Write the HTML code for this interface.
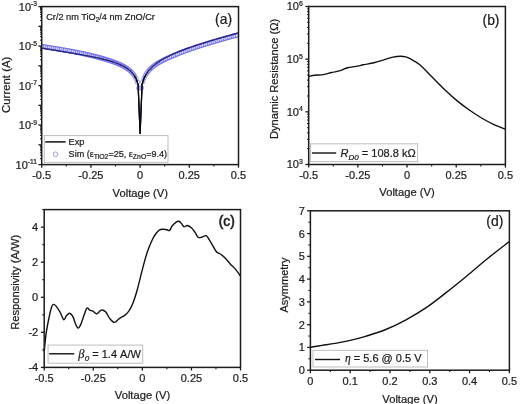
<!DOCTYPE html>
<html><head><meta charset="utf-8"><title>Figure</title>
<style>html,body{margin:0;padding:0;background:#fff}svg{display:block}</style></head>
<body>
<svg width="520" height="404" viewBox="0 0 520 404" font-family="'Liberation Sans', sans-serif" fill="#1c1c1c" stroke="#1c1c1c" stroke-width="0.22">
<rect width="520" height="404" fill="#fff" stroke="none"/>
<clipPath id="ca"><rect x="41.7" y="6.6" width="196.8" height="158"/></clipPath>
<g clip-path="url(#ca)">
<path d="M41.7 48.16L42.1 48.22L44.1 48.53L46.1 48.85L48.1 49.17L50.1 49.49L52.1 49.81L54.1 50.13L56.1 50.46L58.1 50.79L60.1 51.12L62.1 51.45L64.1 51.79L66.1 52.13L68.1 52.47L70.1 52.81L72.1 53.15L74.1 53.49L76.1 53.82L78.1 54.17L80.1 54.51L82.1 54.86L84.1 55.22L86.1 55.58L88.1 55.94L90.1 56.32L92.1 56.71L94.1 57.11L96.1 57.52L98.1 57.95L100.1 58.4L102.1 58.86L104.1 59.35L106.1 59.87L108.1 60.41L110.1 60.99L112.1 61.61L114.1 62.27L116.1 62.99L118.1 63.76L120.1 64.61L122.1 65.55L124.1 66.6L126.1 67.78L128.1 69.14L130.1 70.74L132.1 72.68L134.1 75.18L136.1 78.68L138.1 84.65L140.1 133.5L142.1 84.33L144.1 78.04L146.1 74.2L148.1 71.36L150.1 69.05L152.1 67.09L154.1 65.35L156.1 63.78L158.1 62.34L160.1 61.01L162.1 59.76L164.1 58.59L166.1 57.48L168.1 56.43L170.1 55.44L172.1 54.49L174.1 53.6L176.1 52.75L178.1 51.93L180.1 51.14L182.1 50.37L184.1 49.62L186.1 48.88L188.1 48.16L190.1 47.45L192.1 46.76L194.1 46.08L196.1 45.41L198.1 44.76L200.1 44.11L202.1 43.47L204.1 42.84L206.1 42.22L208.1 41.6L210.1 40.99L212.1 40.39L214.1 39.8L216.1 39.21L218.1 38.62L220.1 38.05L222.1 37.47L224.1 36.9L226.1 36.34L228.1 35.78L230.1 35.22L232.1 34.67L234.1 34.12L236.1 33.58L238.1 33.03L238.5 32.93" fill="none" stroke="#14143c" stroke-width="1.2" stroke-linejoin="round"/>
<g fill="none" stroke="#5450e2" stroke-width="0.65" stroke-opacity="0.85">
<circle cx="41.7" cy="46.41" r="2.2"/>
<circle cx="43.03" cy="46.61" r="2.2"/>
<circle cx="44.36" cy="46.83" r="2.2"/>
<circle cx="45.69" cy="47.04" r="2.2"/>
<circle cx="47.02" cy="47.25" r="2.2"/>
<circle cx="48.35" cy="47.46" r="2.2"/>
<circle cx="49.68" cy="47.67" r="2.2"/>
<circle cx="51.01" cy="47.89" r="2.2"/>
<circle cx="52.34" cy="48.1" r="2.2"/>
<circle cx="53.67" cy="48.31" r="2.2"/>
<circle cx="55" cy="48.53" r="2.2"/>
<circle cx="56.33" cy="48.75" r="2.2"/>
<circle cx="57.66" cy="48.97" r="2.2"/>
<circle cx="58.99" cy="49.19" r="2.2"/>
<circle cx="60.32" cy="49.41" r="2.2"/>
<circle cx="61.65" cy="49.63" r="2.2"/>
<circle cx="62.98" cy="49.85" r="2.2"/>
<circle cx="64.31" cy="50.08" r="2.2"/>
<circle cx="65.64" cy="50.3" r="2.2"/>
<circle cx="66.97" cy="50.53" r="2.2"/>
<circle cx="68.3" cy="50.77" r="2.2"/>
<circle cx="69.63" cy="51.01" r="2.2"/>
<circle cx="70.96" cy="51.25" r="2.2"/>
<circle cx="72.29" cy="51.5" r="2.2"/>
<circle cx="73.62" cy="51.75" r="2.2"/>
<circle cx="74.95" cy="52" r="2.2"/>
<circle cx="76.28" cy="52.26" r="2.2"/>
<circle cx="77.61" cy="52.53" r="2.2"/>
<circle cx="78.94" cy="52.8" r="2.2"/>
<circle cx="80.27" cy="53.07" r="2.2"/>
<circle cx="81.6" cy="53.35" r="2.2"/>
<circle cx="82.93" cy="53.63" r="2.2"/>
<circle cx="84.26" cy="53.92" r="2.2"/>
<circle cx="85.59" cy="54.21" r="2.2"/>
<circle cx="86.92" cy="54.51" r="2.2"/>
<circle cx="88.25" cy="54.81" r="2.2"/>
<circle cx="89.58" cy="55.12" r="2.2"/>
<circle cx="90.91" cy="55.43" r="2.2"/>
<circle cx="92.24" cy="55.75" r="2.2"/>
<circle cx="93.57" cy="56.07" r="2.2"/>
<circle cx="94.9" cy="56.4" r="2.2"/>
<circle cx="96.23" cy="56.74" r="2.2"/>
<circle cx="97.56" cy="57.08" r="2.2"/>
<circle cx="98.89" cy="57.43" r="2.2"/>
<circle cx="100.22" cy="57.79" r="2.2"/>
<circle cx="101.55" cy="58.15" r="2.2"/>
<circle cx="102.88" cy="58.53" r="2.2"/>
<circle cx="104.21" cy="58.91" r="2.2"/>
<circle cx="105.54" cy="59.3" r="2.2"/>
<circle cx="106.87" cy="59.71" r="2.2"/>
<circle cx="108.2" cy="60.12" r="2.2"/>
<circle cx="109.53" cy="60.55" r="2.2"/>
<circle cx="110.86" cy="60.99" r="2.2"/>
<circle cx="112.19" cy="61.45" r="2.2"/>
<circle cx="113.52" cy="61.92" r="2.2"/>
<circle cx="114.85" cy="62.41" r="2.2"/>
<circle cx="116.18" cy="62.92" r="2.2"/>
<circle cx="117.51" cy="63.46" r="2.2"/>
<circle cx="118.84" cy="64.02" r="2.2"/>
<circle cx="120.17" cy="64.62" r="2.2"/>
<circle cx="121.5" cy="65.25" r="2.2"/>
<circle cx="122.83" cy="65.91" r="2.2"/>
<circle cx="124.16" cy="66.63" r="2.2"/>
<circle cx="125.49" cy="67.4" r="2.2"/>
<circle cx="126.82" cy="68.25" r="2.2"/>
<circle cx="128.15" cy="69.18" r="2.2"/>
<circle cx="129.48" cy="70.21" r="2.2"/>
<circle cx="130.81" cy="71.38" r="2.2"/>
<circle cx="132.14" cy="72.72" r="2.2"/>
<circle cx="133.47" cy="74.31" r="2.2"/>
<circle cx="134.8" cy="76.25" r="2.2"/>
<circle cx="136.13" cy="78.75" r="2.2"/>
<circle cx="137.46" cy="82.26" r="2.2"/>
<circle cx="138.79" cy="88.29" r="2.2"/>
<circle cx="141.45" cy="87.81" r="2.2"/>
<circle cx="142.78" cy="81.7" r="2.2"/>
<circle cx="144.11" cy="78.01" r="2.2"/>
<circle cx="145.44" cy="75.33" r="2.2"/>
<circle cx="146.77" cy="73.21" r="2.2"/>
<circle cx="148.1" cy="71.44" r="2.2"/>
<circle cx="149.43" cy="69.92" r="2.2"/>
<circle cx="150.76" cy="68.58" r="2.2"/>
<circle cx="152.09" cy="67.38" r="2.2"/>
<circle cx="153.42" cy="66.29" r="2.2"/>
<circle cx="154.75" cy="65.29" r="2.2"/>
<circle cx="156.08" cy="64.37" r="2.2"/>
<circle cx="157.41" cy="63.51" r="2.2"/>
<circle cx="158.74" cy="62.7" r="2.2"/>
<circle cx="160.07" cy="61.93" r="2.2"/>
<circle cx="161.4" cy="61.2" r="2.2"/>
<circle cx="162.73" cy="60.5" r="2.2"/>
<circle cx="164.06" cy="59.84" r="2.2"/>
<circle cx="165.39" cy="59.19" r="2.2"/>
<circle cx="166.72" cy="58.57" r="2.2"/>
<circle cx="168.05" cy="57.96" r="2.2"/>
<circle cx="169.38" cy="57.37" r="2.2"/>
<circle cx="170.71" cy="56.78" r="2.2"/>
<circle cx="172.04" cy="56.21" r="2.2"/>
<circle cx="173.37" cy="55.65" r="2.2"/>
<circle cx="174.7" cy="55.09" r="2.2"/>
<circle cx="176.03" cy="54.53" r="2.2"/>
<circle cx="177.36" cy="53.98" r="2.2"/>
<circle cx="178.69" cy="53.45" r="2.2"/>
<circle cx="180.02" cy="52.92" r="2.2"/>
<circle cx="181.35" cy="52.41" r="2.2"/>
<circle cx="182.68" cy="51.9" r="2.2"/>
<circle cx="184.01" cy="51.4" r="2.2"/>
<circle cx="185.34" cy="50.91" r="2.2"/>
<circle cx="186.67" cy="50.42" r="2.2"/>
<circle cx="188" cy="49.95" r="2.2"/>
<circle cx="189.33" cy="49.47" r="2.2"/>
<circle cx="190.66" cy="49.01" r="2.2"/>
<circle cx="191.99" cy="48.55" r="2.2"/>
<circle cx="193.32" cy="48.1" r="2.2"/>
<circle cx="194.65" cy="47.65" r="2.2"/>
<circle cx="195.98" cy="47.2" r="2.2"/>
<circle cx="197.31" cy="46.76" r="2.2"/>
<circle cx="198.64" cy="46.33" r="2.2"/>
<circle cx="199.97" cy="45.9" r="2.2"/>
<circle cx="201.3" cy="45.47" r="2.2"/>
<circle cx="202.63" cy="45.05" r="2.2"/>
<circle cx="203.96" cy="44.63" r="2.2"/>
<circle cx="205.29" cy="44.22" r="2.2"/>
<circle cx="206.62" cy="43.81" r="2.2"/>
<circle cx="207.95" cy="43.4" r="2.2"/>
<circle cx="209.28" cy="42.99" r="2.2"/>
<circle cx="210.61" cy="42.59" r="2.2"/>
<circle cx="211.94" cy="42.19" r="2.2"/>
<circle cx="213.27" cy="41.79" r="2.2"/>
<circle cx="214.6" cy="41.4" r="2.2"/>
<circle cx="215.93" cy="41.01" r="2.2"/>
<circle cx="217.26" cy="40.62" r="2.2"/>
<circle cx="218.59" cy="40.23" r="2.2"/>
<circle cx="219.92" cy="39.85" r="2.2"/>
<circle cx="221.25" cy="39.47" r="2.2"/>
<circle cx="222.58" cy="39.09" r="2.2"/>
<circle cx="223.91" cy="38.71" r="2.2"/>
<circle cx="225.24" cy="38.33" r="2.2"/>
<circle cx="226.57" cy="37.96" r="2.2"/>
<circle cx="227.9" cy="37.58" r="2.2"/>
<circle cx="229.23" cy="37.21" r="2.2"/>
<circle cx="230.56" cy="36.85" r="2.2"/>
<circle cx="231.89" cy="36.48" r="2.2"/>
<circle cx="233.22" cy="36.11" r="2.2"/>
<circle cx="234.55" cy="35.75" r="2.2"/>
<circle cx="235.88" cy="35.39" r="2.2"/>
<circle cx="237.21" cy="35.03" r="2.2"/>
</g>
<g stroke="#fff" stroke-width="0.85">
<line x1="42.5" y1="45.08" x2="42.5" y2="47.08" stroke-opacity="0.7"/>
<line x1="44.5" y1="45.4" x2="44.5" y2="47.4" stroke-opacity="0.7"/>
<line x1="46.5" y1="45.71" x2="46.5" y2="47.71" stroke-opacity="0.7"/>
<line x1="48.5" y1="46.03" x2="48.5" y2="48.03" stroke-opacity="0.7"/>
<line x1="50.5" y1="46.35" x2="50.5" y2="48.35" stroke-opacity="0.7"/>
<line x1="52.5" y1="46.68" x2="52.5" y2="48.68" stroke-opacity="0.7"/>
<line x1="54.5" y1="47" x2="54.5" y2="49" stroke-opacity="0.7"/>
<line x1="56.5" y1="47.33" x2="56.5" y2="49.33" stroke-opacity="0.7"/>
<line x1="58.5" y1="47.65" x2="58.5" y2="49.65" stroke-opacity="0.7"/>
<line x1="60.5" y1="47.99" x2="60.5" y2="49.99" stroke-opacity="0.7"/>
<line x1="62.5" y1="48.32" x2="62.5" y2="50.32" stroke-opacity="0.7"/>
<line x1="64.5" y1="48.66" x2="64.5" y2="50.66" stroke-opacity="0.7"/>
<line x1="66.5" y1="49" x2="66.5" y2="51" stroke-opacity="0.7"/>
<line x1="68.5" y1="49.36" x2="68.5" y2="51.36" stroke-opacity="0.69"/>
<line x1="70.5" y1="49.72" x2="70.5" y2="51.72" stroke-opacity="0.68"/>
<line x1="72.5" y1="50.1" x2="72.5" y2="52.1" stroke-opacity="0.67"/>
<line x1="74.5" y1="50.5" x2="74.5" y2="52.5" stroke-opacity="0.65"/>
<line x1="76.5" y1="50.9" x2="76.5" y2="52.9" stroke-opacity="0.63"/>
<line x1="78.5" y1="51.32" x2="78.5" y2="53.32" stroke-opacity="0.61"/>
<line x1="80.5" y1="51.74" x2="80.5" y2="53.74" stroke-opacity="0.58"/>
<line x1="82.5" y1="52.18" x2="82.5" y2="54.18" stroke-opacity="0.56"/>
<line x1="84.5" y1="52.63" x2="84.5" y2="54.63" stroke-opacity="0.53"/>
<line x1="86.5" y1="53.1" x2="86.5" y2="55.1" stroke-opacity="0.49"/>
<line x1="88.5" y1="53.57" x2="88.5" y2="55.57" stroke-opacity="0.46"/>
<line x1="90.5" y1="54.06" x2="90.5" y2="56.06" stroke-opacity="0.43"/>
<line x1="92.5" y1="54.56" x2="92.5" y2="56.56" stroke-opacity="0.39"/>
<line x1="94.5" y1="55.07" x2="94.5" y2="57.07" stroke-opacity="0.36"/>
<line x1="96.5" y1="55.6" x2="96.5" y2="57.6" stroke-opacity="0.32"/>
<line x1="98.5" y1="56.14" x2="98.5" y2="58.14" stroke-opacity="0.29"/>
<line x1="100.5" y1="56.7" x2="100.5" y2="58.7" stroke-opacity="0.25"/>
<line x1="102.5" y1="57.28" x2="102.5" y2="59.28" stroke-opacity="0.22"/>
<line x1="104.5" y1="57.88" x2="104.5" y2="59.88" stroke-opacity="0.18"/>
<line x1="106.5" y1="58.49" x2="106.5" y2="60.49" stroke-opacity="0.15"/>
<line x1="108.5" y1="59.14" x2="108.5" y2="61.14" stroke-opacity="0.12"/>
<line x1="152.5" y1="66.11" x2="152.5" y2="68.11" stroke-opacity="0.12"/>
<line x1="154.5" y1="64.59" x2="154.5" y2="66.59" stroke-opacity="0.18"/>
<line x1="156.5" y1="63.25" x2="156.5" y2="65.25" stroke-opacity="0.24"/>
<line x1="158.5" y1="62.04" x2="158.5" y2="64.04" stroke-opacity="0.31"/>
<line x1="160.5" y1="60.93" x2="160.5" y2="62.93" stroke-opacity="0.37"/>
<line x1="162.5" y1="59.91" x2="162.5" y2="61.91" stroke-opacity="0.44"/>
<line x1="164.5" y1="58.94" x2="164.5" y2="60.94" stroke-opacity="0.5"/>
<line x1="166.5" y1="58.03" x2="166.5" y2="60.03" stroke-opacity="0.56"/>
<line x1="168.5" y1="57.15" x2="168.5" y2="59.15" stroke-opacity="0.61"/>
<line x1="170.5" y1="56.29" x2="170.5" y2="58.29" stroke-opacity="0.65"/>
<line x1="172.5" y1="55.45" x2="172.5" y2="57.45" stroke-opacity="0.68"/>
<line x1="174.5" y1="54.62" x2="174.5" y2="56.62" stroke-opacity="0.7"/>
<line x1="176.5" y1="53.78" x2="176.5" y2="55.78" stroke-opacity="0.7"/>
<line x1="178.5" y1="52.97" x2="178.5" y2="54.97" stroke-opacity="0.7"/>
<line x1="180.5" y1="52.18" x2="180.5" y2="54.18" stroke-opacity="0.7"/>
<line x1="182.5" y1="51.42" x2="182.5" y2="53.42" stroke-opacity="0.7"/>
<line x1="184.5" y1="50.67" x2="184.5" y2="52.67" stroke-opacity="0.7"/>
<line x1="186.5" y1="49.93" x2="186.5" y2="51.93" stroke-opacity="0.7"/>
<line x1="188.5" y1="49.22" x2="188.5" y2="51.22" stroke-opacity="0.7"/>
<line x1="190.5" y1="48.51" x2="190.5" y2="50.51" stroke-opacity="0.7"/>
<line x1="192.5" y1="47.83" x2="192.5" y2="49.83" stroke-opacity="0.7"/>
<line x1="194.5" y1="47.15" x2="194.5" y2="49.15" stroke-opacity="0.7"/>
<line x1="196.5" y1="46.48" x2="196.5" y2="48.48" stroke-opacity="0.7"/>
<line x1="198.5" y1="45.83" x2="198.5" y2="47.83" stroke-opacity="0.7"/>
<line x1="200.5" y1="45.18" x2="200.5" y2="47.18" stroke-opacity="0.7"/>
<line x1="202.5" y1="44.54" x2="202.5" y2="46.54" stroke-opacity="0.7"/>
<line x1="204.5" y1="43.91" x2="204.5" y2="45.91" stroke-opacity="0.7"/>
<line x1="206.5" y1="43.29" x2="206.5" y2="45.29" stroke-opacity="0.7"/>
<line x1="208.5" y1="42.68" x2="208.5" y2="44.68" stroke-opacity="0.7"/>
<line x1="210.5" y1="42.07" x2="210.5" y2="44.07" stroke-opacity="0.7"/>
<line x1="212.5" y1="41.47" x2="212.5" y2="43.47" stroke-opacity="0.7"/>
<line x1="214.5" y1="40.88" x2="214.5" y2="42.88" stroke-opacity="0.7"/>
<line x1="216.5" y1="40.29" x2="216.5" y2="42.29" stroke-opacity="0.7"/>
<line x1="218.5" y1="39.71" x2="218.5" y2="41.71" stroke-opacity="0.7"/>
<line x1="220.5" y1="39.13" x2="220.5" y2="41.13" stroke-opacity="0.7"/>
<line x1="222.5" y1="38.56" x2="222.5" y2="40.56" stroke-opacity="0.7"/>
<line x1="224.5" y1="37.99" x2="224.5" y2="39.99" stroke-opacity="0.7"/>
<line x1="226.5" y1="37.43" x2="226.5" y2="39.43" stroke-opacity="0.7"/>
<line x1="228.5" y1="36.87" x2="228.5" y2="38.87" stroke-opacity="0.7"/>
<line x1="230.5" y1="36.31" x2="230.5" y2="38.31" stroke-opacity="0.7"/>
<line x1="232.5" y1="35.76" x2="232.5" y2="37.76" stroke-opacity="0.7"/>
<line x1="234.5" y1="35.21" x2="234.5" y2="37.21" stroke-opacity="0.7"/>
<line x1="236.5" y1="34.67" x2="236.5" y2="36.67" stroke-opacity="0.7"/>
</g>
<path d="M41.7 48.16L42.1 48.22L44.1 48.53L46.1 48.85L48.1 49.17L50.1 49.49L52.1 49.81L54.1 50.13L56.1 50.46L58.1 50.79L60.1 51.12L62.1 51.45L64.1 51.79L66.1 52.13L68.1 52.47L70.1 52.81L72.1 53.15L74.1 53.49L76.1 53.82L78.1 54.17L80.1 54.51L82.1 54.86L84.1 55.22L86.1 55.58L88.1 55.94L90.1 56.32L92.1 56.71L94.1 57.11L96.1 57.52L98.1 57.95L100.1 58.4L102.1 58.86L104.1 59.35L106.1 59.87L108.1 60.41L110.1 60.99L112.1 61.61L114.1 62.27L116.1 62.99L118.1 63.76L120.1 64.61L122.1 65.55L124.1 66.6L126.1 67.78L128.1 69.14L130.1 70.74L132.1 72.68L134.1 75.18L136.1 78.68L138.1 84.65L140.1 133.5L142.1 84.33L144.1 78.04L146.1 74.2L148.1 71.36L150.1 69.05L152.1 67.09L154.1 65.35L156.1 63.78L158.1 62.34L160.1 61.01L162.1 59.76L164.1 58.59L166.1 57.48L168.1 56.43L170.1 55.44L172.1 54.49L174.1 53.6L176.1 52.75L178.1 51.93L180.1 51.14L182.1 50.37L184.1 49.62L186.1 48.88L188.1 48.16L190.1 47.45L192.1 46.76L194.1 46.08L196.1 45.41L198.1 44.76L200.1 44.11L202.1 43.47L204.1 42.84L206.1 42.22L208.1 41.6L210.1 40.99L212.1 40.39L214.1 39.8L216.1 39.21L218.1 38.62L220.1 38.05L222.1 37.47L224.1 36.9L226.1 36.34L228.1 35.78L230.1 35.22L232.1 34.67L234.1 34.12L236.1 33.58L238.1 33.03L238.5 32.93" fill="none" stroke="#0c0c40" stroke-opacity="0.5" stroke-width="1.15" stroke-linejoin="round"/>
<path d="M134.1 75.18L136.1 78.68L138.1 84.65L140.1 133.5L142.1 84.33L144.1 78.04L146.1 74.2" fill="none" stroke="#0a0a0a" stroke-width="1.35" stroke-linejoin="round"/>
</g>
<rect x="41.7" y="6.6" width="196.8" height="158" fill="none" stroke="#1c1c1c" stroke-width="1.5"/>
<line x1="66.3" y1="164.6" x2="66.3" y2="166.5" stroke="#1c1c1c" stroke-width="1.1" />
<line x1="115.5" y1="164.6" x2="115.5" y2="166.5" stroke="#1c1c1c" stroke-width="1.1" />
<line x1="164.7" y1="164.6" x2="164.7" y2="166.5" stroke="#1c1c1c" stroke-width="1.1" />
<line x1="213.9" y1="164.6" x2="213.9" y2="166.5" stroke="#1c1c1c" stroke-width="1.1" />
<line x1="41.7" y1="164.6" x2="41.7" y2="167.7" stroke="#1c1c1c" stroke-width="1.3" />
<text x="41.7" y="179" font-size="11" text-anchor="middle" >-0.5</text>
<line x1="90.9" y1="164.6" x2="90.9" y2="167.7" stroke="#1c1c1c" stroke-width="1.3" />
<text x="90.9" y="179" font-size="11" text-anchor="middle" >-0.25</text>
<line x1="140.1" y1="164.6" x2="140.1" y2="167.7" stroke="#1c1c1c" stroke-width="1.3" />
<text x="140.1" y="179" font-size="11" text-anchor="middle" >0</text>
<line x1="189.3" y1="164.6" x2="189.3" y2="167.7" stroke="#1c1c1c" stroke-width="1.3" />
<text x="189.3" y="179" font-size="11" text-anchor="middle" >0.25</text>
<line x1="238.5" y1="164.6" x2="238.5" y2="167.7" stroke="#1c1c1c" stroke-width="1.3" />
<text x="238.5" y="179" font-size="11" text-anchor="middle" >0.5</text>
<line x1="41.7" y1="164.6" x2="38.4" y2="164.6" stroke="#1c1c1c" stroke-width="1.3" />
<line x1="41.7" y1="158.65" x2="40" y2="158.65" stroke="#1c1c1c" stroke-width="1.0" />
<line x1="41.7" y1="155.18" x2="40" y2="155.18" stroke="#1c1c1c" stroke-width="1.0" />
<line x1="41.7" y1="152.71" x2="40" y2="152.71" stroke="#1c1c1c" stroke-width="1.0" />
<line x1="41.7" y1="150.8" x2="40" y2="150.8" stroke="#1c1c1c" stroke-width="1.0" />
<line x1="41.7" y1="149.23" x2="40" y2="149.23" stroke="#1c1c1c" stroke-width="1.0" />
<line x1="41.7" y1="147.91" x2="40" y2="147.91" stroke="#1c1c1c" stroke-width="1.0" />
<line x1="41.7" y1="146.76" x2="40" y2="146.76" stroke="#1c1c1c" stroke-width="1.0" />
<line x1="41.7" y1="145.75" x2="40" y2="145.75" stroke="#1c1c1c" stroke-width="1.0" />
<text x="37" y="168.55" font-size="11" text-anchor="end">10<tspan font-size="6.7" dy="-4.4">-11</tspan></text>
<line x1="41.7" y1="144.85" x2="38.4" y2="144.85" stroke="#1c1c1c" stroke-width="1.3" />
<line x1="41.7" y1="138.9" x2="40" y2="138.9" stroke="#1c1c1c" stroke-width="1.0" />
<line x1="41.7" y1="135.43" x2="40" y2="135.43" stroke="#1c1c1c" stroke-width="1.0" />
<line x1="41.7" y1="132.96" x2="40" y2="132.96" stroke="#1c1c1c" stroke-width="1.0" />
<line x1="41.7" y1="131.05" x2="40" y2="131.05" stroke="#1c1c1c" stroke-width="1.0" />
<line x1="41.7" y1="129.48" x2="40" y2="129.48" stroke="#1c1c1c" stroke-width="1.0" />
<line x1="41.7" y1="128.16" x2="40" y2="128.16" stroke="#1c1c1c" stroke-width="1.0" />
<line x1="41.7" y1="127.01" x2="40" y2="127.01" stroke="#1c1c1c" stroke-width="1.0" />
<line x1="41.7" y1="126" x2="40" y2="126" stroke="#1c1c1c" stroke-width="1.0" />
<line x1="41.7" y1="125.1" x2="38.4" y2="125.1" stroke="#1c1c1c" stroke-width="1.3" />
<line x1="41.7" y1="119.15" x2="40" y2="119.15" stroke="#1c1c1c" stroke-width="1.0" />
<line x1="41.7" y1="115.68" x2="40" y2="115.68" stroke="#1c1c1c" stroke-width="1.0" />
<line x1="41.7" y1="113.21" x2="40" y2="113.21" stroke="#1c1c1c" stroke-width="1.0" />
<line x1="41.7" y1="111.3" x2="40" y2="111.3" stroke="#1c1c1c" stroke-width="1.0" />
<line x1="41.7" y1="109.73" x2="40" y2="109.73" stroke="#1c1c1c" stroke-width="1.0" />
<line x1="41.7" y1="108.41" x2="40" y2="108.41" stroke="#1c1c1c" stroke-width="1.0" />
<line x1="41.7" y1="107.26" x2="40" y2="107.26" stroke="#1c1c1c" stroke-width="1.0" />
<line x1="41.7" y1="106.25" x2="40" y2="106.25" stroke="#1c1c1c" stroke-width="1.0" />
<text x="37" y="129.05" font-size="11" text-anchor="end">10<tspan font-size="6.7" dy="-4.4">-9</tspan></text>
<line x1="41.7" y1="105.35" x2="38.4" y2="105.35" stroke="#1c1c1c" stroke-width="1.3" />
<line x1="41.7" y1="99.4" x2="40" y2="99.4" stroke="#1c1c1c" stroke-width="1.0" />
<line x1="41.7" y1="95.93" x2="40" y2="95.93" stroke="#1c1c1c" stroke-width="1.0" />
<line x1="41.7" y1="93.46" x2="40" y2="93.46" stroke="#1c1c1c" stroke-width="1.0" />
<line x1="41.7" y1="91.55" x2="40" y2="91.55" stroke="#1c1c1c" stroke-width="1.0" />
<line x1="41.7" y1="89.98" x2="40" y2="89.98" stroke="#1c1c1c" stroke-width="1.0" />
<line x1="41.7" y1="88.66" x2="40" y2="88.66" stroke="#1c1c1c" stroke-width="1.0" />
<line x1="41.7" y1="87.51" x2="40" y2="87.51" stroke="#1c1c1c" stroke-width="1.0" />
<line x1="41.7" y1="86.5" x2="40" y2="86.5" stroke="#1c1c1c" stroke-width="1.0" />
<line x1="41.7" y1="85.6" x2="38.4" y2="85.6" stroke="#1c1c1c" stroke-width="1.3" />
<line x1="41.7" y1="79.65" x2="40" y2="79.65" stroke="#1c1c1c" stroke-width="1.0" />
<line x1="41.7" y1="76.18" x2="40" y2="76.18" stroke="#1c1c1c" stroke-width="1.0" />
<line x1="41.7" y1="73.71" x2="40" y2="73.71" stroke="#1c1c1c" stroke-width="1.0" />
<line x1="41.7" y1="71.8" x2="40" y2="71.8" stroke="#1c1c1c" stroke-width="1.0" />
<line x1="41.7" y1="70.23" x2="40" y2="70.23" stroke="#1c1c1c" stroke-width="1.0" />
<line x1="41.7" y1="68.91" x2="40" y2="68.91" stroke="#1c1c1c" stroke-width="1.0" />
<line x1="41.7" y1="67.76" x2="40" y2="67.76" stroke="#1c1c1c" stroke-width="1.0" />
<line x1="41.7" y1="66.75" x2="40" y2="66.75" stroke="#1c1c1c" stroke-width="1.0" />
<text x="37" y="89.55" font-size="11" text-anchor="end">10<tspan font-size="6.7" dy="-4.4">-7</tspan></text>
<line x1="41.7" y1="65.85" x2="38.4" y2="65.85" stroke="#1c1c1c" stroke-width="1.3" />
<line x1="41.7" y1="59.9" x2="40" y2="59.9" stroke="#1c1c1c" stroke-width="1.0" />
<line x1="41.7" y1="56.43" x2="40" y2="56.43" stroke="#1c1c1c" stroke-width="1.0" />
<line x1="41.7" y1="53.96" x2="40" y2="53.96" stroke="#1c1c1c" stroke-width="1.0" />
<line x1="41.7" y1="52.05" x2="40" y2="52.05" stroke="#1c1c1c" stroke-width="1.0" />
<line x1="41.7" y1="50.48" x2="40" y2="50.48" stroke="#1c1c1c" stroke-width="1.0" />
<line x1="41.7" y1="49.16" x2="40" y2="49.16" stroke="#1c1c1c" stroke-width="1.0" />
<line x1="41.7" y1="48.01" x2="40" y2="48.01" stroke="#1c1c1c" stroke-width="1.0" />
<line x1="41.7" y1="47" x2="40" y2="47" stroke="#1c1c1c" stroke-width="1.0" />
<line x1="41.7" y1="46.1" x2="38.4" y2="46.1" stroke="#1c1c1c" stroke-width="1.3" />
<line x1="41.7" y1="40.15" x2="40" y2="40.15" stroke="#1c1c1c" stroke-width="1.0" />
<line x1="41.7" y1="36.68" x2="40" y2="36.68" stroke="#1c1c1c" stroke-width="1.0" />
<line x1="41.7" y1="34.21" x2="40" y2="34.21" stroke="#1c1c1c" stroke-width="1.0" />
<line x1="41.7" y1="32.3" x2="40" y2="32.3" stroke="#1c1c1c" stroke-width="1.0" />
<line x1="41.7" y1="30.73" x2="40" y2="30.73" stroke="#1c1c1c" stroke-width="1.0" />
<line x1="41.7" y1="29.41" x2="40" y2="29.41" stroke="#1c1c1c" stroke-width="1.0" />
<line x1="41.7" y1="28.26" x2="40" y2="28.26" stroke="#1c1c1c" stroke-width="1.0" />
<line x1="41.7" y1="27.25" x2="40" y2="27.25" stroke="#1c1c1c" stroke-width="1.0" />
<text x="37" y="50.05" font-size="11" text-anchor="end">10<tspan font-size="6.7" dy="-4.4">-5</tspan></text>
<line x1="41.7" y1="26.35" x2="38.4" y2="26.35" stroke="#1c1c1c" stroke-width="1.3" />
<line x1="41.7" y1="20.4" x2="40" y2="20.4" stroke="#1c1c1c" stroke-width="1.0" />
<line x1="41.7" y1="16.93" x2="40" y2="16.93" stroke="#1c1c1c" stroke-width="1.0" />
<line x1="41.7" y1="14.46" x2="40" y2="14.46" stroke="#1c1c1c" stroke-width="1.0" />
<line x1="41.7" y1="12.55" x2="40" y2="12.55" stroke="#1c1c1c" stroke-width="1.0" />
<line x1="41.7" y1="10.98" x2="40" y2="10.98" stroke="#1c1c1c" stroke-width="1.0" />
<line x1="41.7" y1="9.66" x2="40" y2="9.66" stroke="#1c1c1c" stroke-width="1.0" />
<line x1="41.7" y1="8.51" x2="40" y2="8.51" stroke="#1c1c1c" stroke-width="1.0" />
<line x1="41.7" y1="7.5" x2="40" y2="7.5" stroke="#1c1c1c" stroke-width="1.0" />
<line x1="41.7" y1="6.6" x2="38.4" y2="6.6" stroke="#1c1c1c" stroke-width="1.3" />
<text x="37" y="10.55" font-size="11" text-anchor="end">10<tspan font-size="6.7" dy="-4.4">-3</tspan></text>
<text x="140.3" y="196.5" font-size="11.2" text-anchor="middle" >Voltage (V)</text>
<text x="9.7" y="84.8" font-size="11.4" text-anchor="middle" transform="rotate(-90 9.7 84.8)" >Current (A)</text>
<text x="46.2" y="20" font-size="9.2">Cr/2 nm TiO<tspan font-size="6.3" dy="1.8">2</tspan><tspan dy="-1.8">/4 nm ZnO/Cr</tspan></text>
<text x="223.6" y="24.4" font-size="13.9" text-anchor="middle" >(a)</text>
<rect x="44.3" y="135.6" width="123.7" height="26.8" fill="#fff" stroke="#bdbdbd" stroke-width="1"/>
<line x1="45.2" y1="141.9" x2="65.6" y2="141.9" stroke="#000" stroke-width="1.4" />
<text x="68.6" y="144.5" font-size="9.2" text-anchor="start" >Exp</text>
<circle cx="55.5" cy="154.2" r="2.3" fill="none" stroke="#8f8fe6" stroke-width="0.9"/>
<text x="68.6" y="157" font-size="9.05">Sim (ε<tspan font-size="6.9" dy="2">TiO2</tspan><tspan dy="-2">=25, ε</tspan><tspan font-size="6.9" dy="2">ZnO</tspan><tspan dy="-2">=9.4)</tspan></text>
<path d="M308.9 76.4C309.88 76.2 312.4 75.5 314.8 75.2C317.2 74.9 320.48 75.05 323.3 74.6C326.12 74.15 328.88 73.15 331.7 72.5C334.52 71.85 337.55 71.5 340.2 70.7C342.85 69.9 344.97 68.42 347.6 67.7C350.23 66.98 353.35 66.88 356 66.4C358.65 65.92 360.5 65.4 363.5 64.8C366.5 64.2 370.48 63.67 374 62.8C377.52 61.93 381.43 60.55 384.6 59.6C387.77 58.65 390.35 57.67 393 57.1C395.65 56.53 398.37 56.23 400.5 56.2C402.63 56.17 404.22 56.48 405.8 56.9C407.38 57.32 407.67 57.38 410 58.7C412.33 60.02 416.12 61.73 419.8 64.8C423.48 67.87 427.98 72.98 432.1 77.1C436.22 81.22 440.37 85.58 444.5 89.5C448.63 93.42 452.77 97.18 456.9 100.6C461.03 104.02 465.18 107.1 469.3 110C473.42 112.9 477.48 115.55 481.6 118C485.72 120.45 490.05 122.83 494 124.7C497.95 126.57 503.42 128.45 505.3 129.2" fill="none" stroke="#111" stroke-width="1.4"/>
<rect x="308.7" y="6.5" width="196.7" height="158" fill="none" stroke="#1c1c1c" stroke-width="1.5"/>
<line x1="333.29" y1="164.5" x2="333.29" y2="166.4" stroke="#1c1c1c" stroke-width="1.1" />
<line x1="382.46" y1="164.5" x2="382.46" y2="166.4" stroke="#1c1c1c" stroke-width="1.1" />
<line x1="431.64" y1="164.5" x2="431.64" y2="166.4" stroke="#1c1c1c" stroke-width="1.1" />
<line x1="480.81" y1="164.5" x2="480.81" y2="166.4" stroke="#1c1c1c" stroke-width="1.1" />
<line x1="308.7" y1="164.5" x2="308.7" y2="167.6" stroke="#1c1c1c" stroke-width="1.3" />
<text x="308.7" y="179" font-size="11" text-anchor="middle" >-0.5</text>
<line x1="357.88" y1="164.5" x2="357.88" y2="167.6" stroke="#1c1c1c" stroke-width="1.3" />
<text x="357.88" y="179" font-size="11" text-anchor="middle" >-0.25</text>
<line x1="407.05" y1="164.5" x2="407.05" y2="167.6" stroke="#1c1c1c" stroke-width="1.3" />
<text x="407.05" y="179" font-size="11" text-anchor="middle" >0</text>
<line x1="456.22" y1="164.5" x2="456.22" y2="167.6" stroke="#1c1c1c" stroke-width="1.3" />
<text x="456.22" y="179" font-size="11" text-anchor="middle" >0.25</text>
<line x1="505.4" y1="164.5" x2="505.4" y2="167.6" stroke="#1c1c1c" stroke-width="1.3" />
<text x="505.4" y="179" font-size="11" text-anchor="middle" >0.5</text>
<line x1="308.7" y1="164.5" x2="305.4" y2="164.5" stroke="#1c1c1c" stroke-width="1.3" />
<line x1="308.7" y1="148.65" x2="307" y2="148.65" stroke="#1c1c1c" stroke-width="1.0" />
<line x1="308.7" y1="139.37" x2="307" y2="139.37" stroke="#1c1c1c" stroke-width="1.0" />
<line x1="308.7" y1="132.79" x2="307" y2="132.79" stroke="#1c1c1c" stroke-width="1.0" />
<line x1="308.7" y1="127.69" x2="307" y2="127.69" stroke="#1c1c1c" stroke-width="1.0" />
<line x1="308.7" y1="123.52" x2="307" y2="123.52" stroke="#1c1c1c" stroke-width="1.0" />
<line x1="308.7" y1="119.99" x2="307" y2="119.99" stroke="#1c1c1c" stroke-width="1.0" />
<line x1="308.7" y1="116.94" x2="307" y2="116.94" stroke="#1c1c1c" stroke-width="1.0" />
<line x1="308.7" y1="114.24" x2="307" y2="114.24" stroke="#1c1c1c" stroke-width="1.0" />
<text x="302.9" y="168.45" font-size="11" text-anchor="end">10<tspan font-size="7" dy="-4.4">3</tspan></text>
<line x1="308.7" y1="111.83" x2="305.4" y2="111.83" stroke="#1c1c1c" stroke-width="1.3" />
<line x1="308.7" y1="95.98" x2="307" y2="95.98" stroke="#1c1c1c" stroke-width="1.0" />
<line x1="308.7" y1="86.7" x2="307" y2="86.7" stroke="#1c1c1c" stroke-width="1.0" />
<line x1="308.7" y1="80.12" x2="307" y2="80.12" stroke="#1c1c1c" stroke-width="1.0" />
<line x1="308.7" y1="75.02" x2="307" y2="75.02" stroke="#1c1c1c" stroke-width="1.0" />
<line x1="308.7" y1="70.85" x2="307" y2="70.85" stroke="#1c1c1c" stroke-width="1.0" />
<line x1="308.7" y1="67.32" x2="307" y2="67.32" stroke="#1c1c1c" stroke-width="1.0" />
<line x1="308.7" y1="64.27" x2="307" y2="64.27" stroke="#1c1c1c" stroke-width="1.0" />
<line x1="308.7" y1="61.58" x2="307" y2="61.58" stroke="#1c1c1c" stroke-width="1.0" />
<text x="302.9" y="115.78" font-size="11" text-anchor="end">10<tspan font-size="7" dy="-4.4">4</tspan></text>
<line x1="308.7" y1="59.17" x2="305.4" y2="59.17" stroke="#1c1c1c" stroke-width="1.3" />
<line x1="308.7" y1="43.31" x2="307" y2="43.31" stroke="#1c1c1c" stroke-width="1.0" />
<line x1="308.7" y1="34.04" x2="307" y2="34.04" stroke="#1c1c1c" stroke-width="1.0" />
<line x1="308.7" y1="27.46" x2="307" y2="27.46" stroke="#1c1c1c" stroke-width="1.0" />
<line x1="308.7" y1="22.35" x2="307" y2="22.35" stroke="#1c1c1c" stroke-width="1.0" />
<line x1="308.7" y1="18.18" x2="307" y2="18.18" stroke="#1c1c1c" stroke-width="1.0" />
<line x1="308.7" y1="14.66" x2="307" y2="14.66" stroke="#1c1c1c" stroke-width="1.0" />
<line x1="308.7" y1="11.6" x2="307" y2="11.6" stroke="#1c1c1c" stroke-width="1.0" />
<line x1="308.7" y1="8.91" x2="307" y2="8.91" stroke="#1c1c1c" stroke-width="1.0" />
<text x="302.9" y="63.12" font-size="11" text-anchor="end">10<tspan font-size="7" dy="-4.4">5</tspan></text>
<line x1="308.7" y1="6.5" x2="305.4" y2="6.5" stroke="#1c1c1c" stroke-width="1.3" />
<text x="302.9" y="10.45" font-size="11" text-anchor="end">10<tspan font-size="7" dy="-4.4">6</tspan></text>
<text x="407" y="195.9" font-size="11.2" text-anchor="middle" >Voltage (V)</text>
<text x="278" y="78.9" font-size="11.15" text-anchor="middle" transform="rotate(-90 278 78.9)" >Dynamic Resistance (Ω)</text>
<text x="491" y="24.6" font-size="13.9" text-anchor="middle" >(b)</text>
<rect x="310.6" y="143.8" width="107" height="17.8" fill="#fff" stroke="#bdbdbd" stroke-width="1"/>
<line x1="311.9" y1="153" x2="336.2" y2="153" stroke="#111" stroke-width="1.4" />
<text x="340.6" y="156.6" font-size="11"><tspan font-style="italic">R</tspan><tspan font-style="italic" font-size="8" dy="2.9">D0</tspan><tspan dy="-2.9"> = 108.8 kΩ</tspan></text>
<path d="M44.2 351.3C44.55 348.13 45.42 338.28 46.3 332.3C47.18 326.32 48.62 319.63 49.5 315.4C50.38 311.17 50.97 308.73 51.6 306.9C52.23 305.07 52.58 304.57 53.3 304.4C54.02 304.23 54.77 304.6 55.9 305.9C57.03 307.2 58.8 309.92 60.1 312.2C61.4 314.48 62.65 319 63.7 319.6C64.75 320.2 65.42 316.85 66.4 315.8C67.38 314.75 68.53 313.2 69.6 313.3C70.67 313.4 71.82 314.65 72.8 316.4C73.78 318.15 74.62 321.85 75.5 323.8C76.38 325.75 77.25 327.92 78.1 328.1C78.95 328.28 79.55 327.2 80.6 324.9C81.65 322.6 83.33 317.12 84.4 314.3C85.47 311.48 86.12 308.7 87 308C87.88 307.3 88.72 309.57 89.7 310.1C90.68 310.63 91.73 310.6 92.9 311.2C94.07 311.8 95.3 313.88 96.7 313.7C98.1 313.52 99.82 310.42 101.3 310.1C102.78 309.78 104.18 310.38 105.6 311.8C107.02 313.22 108.32 316.83 109.8 318.6C111.28 320.37 112.92 322.4 114.5 322.4C116.08 322.4 117.62 319.77 119.3 318.6C120.98 317.43 123.02 316.63 124.6 315.4C126.18 314.17 127.38 313.32 128.8 311.2C130.22 309.08 131.67 306.37 133.1 302.7C134.53 299.03 135.85 294.75 137.4 289.2C138.95 283.65 140.75 275.6 142.4 269.4C144.05 263.2 145.65 256.95 147.3 252C148.95 247.05 150.85 242.78 152.3 239.7C153.75 236.62 154.77 235.15 156 233.5C157.23 231.85 158.47 230.5 159.7 229.8C160.93 229.1 162.17 229.3 163.4 229.3C164.63 229.3 166.07 229.6 167.1 229.8C168.13 230 168.77 231.13 169.6 230.5C170.43 229.87 171.07 227.37 172.1 226C173.13 224.63 174.65 223.08 175.8 222.3C176.95 221.52 178.05 221.08 179 221.3C179.95 221.52 180.67 222.68 181.5 223.6C182.33 224.52 183.02 226.48 184 226.8C184.98 227.12 186.17 225.33 187.4 225.5C188.63 225.67 190.15 226.68 191.4 227.8C192.65 228.92 193.78 230.63 194.9 232.2C196.02 233.77 196.95 236.37 198.1 237.2C199.25 238.03 200.45 237.45 201.8 237.2C203.15 236.95 204.97 235.28 206.2 235.7C207.43 236.12 208.08 238.02 209.2 239.7C210.32 241.38 211.67 243.75 212.9 245.8C214.13 247.85 215.37 250.63 216.6 252C217.83 253.37 218.85 252.97 220.3 254C221.75 255.03 223.65 256.55 225.3 258.2C226.95 259.85 228.55 262.12 230.2 263.9C231.85 265.68 233.52 266.92 235.2 268.9C236.88 270.88 239.45 274.65 240.3 275.8" fill="none" stroke="#111" stroke-width="1.4" stroke-linejoin="round"/>
<rect x="44.2" y="209.6" width="196.3" height="157.8" fill="none" stroke="#1c1c1c" stroke-width="1.5"/>
<line x1="68.74" y1="367.4" x2="68.74" y2="369.3" stroke="#1c1c1c" stroke-width="1.1" />
<line x1="117.81" y1="367.4" x2="117.81" y2="369.3" stroke="#1c1c1c" stroke-width="1.1" />
<line x1="166.89" y1="367.4" x2="166.89" y2="369.3" stroke="#1c1c1c" stroke-width="1.1" />
<line x1="215.96" y1="367.4" x2="215.96" y2="369.3" stroke="#1c1c1c" stroke-width="1.1" />
<line x1="44.2" y1="367.4" x2="44.2" y2="370.5" stroke="#1c1c1c" stroke-width="1.3" />
<text x="44.2" y="381.6" font-size="11" text-anchor="middle" >-0.5</text>
<line x1="93.28" y1="367.4" x2="93.28" y2="370.5" stroke="#1c1c1c" stroke-width="1.3" />
<text x="93.28" y="381.6" font-size="11" text-anchor="middle" >-0.25</text>
<line x1="142.35" y1="367.4" x2="142.35" y2="370.5" stroke="#1c1c1c" stroke-width="1.3" />
<text x="142.35" y="381.6" font-size="11" text-anchor="middle" >0</text>
<line x1="191.43" y1="367.4" x2="191.43" y2="370.5" stroke="#1c1c1c" stroke-width="1.3" />
<text x="191.43" y="381.6" font-size="11" text-anchor="middle" >0.25</text>
<line x1="240.5" y1="367.4" x2="240.5" y2="370.5" stroke="#1c1c1c" stroke-width="1.3" />
<text x="240.5" y="381.6" font-size="11" text-anchor="middle" >0.5</text>
<line x1="44.2" y1="349.87" x2="42.2" y2="349.87" stroke="#1c1c1c" stroke-width="1.1" />
<line x1="44.2" y1="314.8" x2="42.2" y2="314.8" stroke="#1c1c1c" stroke-width="1.1" />
<line x1="44.2" y1="279.73" x2="42.2" y2="279.73" stroke="#1c1c1c" stroke-width="1.1" />
<line x1="44.2" y1="244.67" x2="42.2" y2="244.67" stroke="#1c1c1c" stroke-width="1.1" />
<line x1="44.2" y1="209.6" x2="42.2" y2="209.6" stroke="#1c1c1c" stroke-width="1.1" />
<line x1="44.2" y1="367.4" x2="40.9" y2="367.4" stroke="#1c1c1c" stroke-width="1.3" />
<text x="38.2" y="371.35" font-size="11" text-anchor="end" >-4</text>
<line x1="44.2" y1="332.33" x2="40.9" y2="332.33" stroke="#1c1c1c" stroke-width="1.3" />
<text x="38.2" y="336.28" font-size="11" text-anchor="end" >-2</text>
<line x1="44.2" y1="297.27" x2="40.9" y2="297.27" stroke="#1c1c1c" stroke-width="1.3" />
<text x="38.2" y="301.22" font-size="11" text-anchor="end" >0</text>
<line x1="44.2" y1="262.2" x2="40.9" y2="262.2" stroke="#1c1c1c" stroke-width="1.3" />
<text x="38.2" y="266.15" font-size="11" text-anchor="end" >2</text>
<line x1="44.2" y1="227.13" x2="40.9" y2="227.13" stroke="#1c1c1c" stroke-width="1.3" />
<text x="38.2" y="231.08" font-size="11" text-anchor="end" >4</text>
<text x="142.5" y="398.9" font-size="11.2" text-anchor="middle" >Voltage (V)</text>
<text x="19.5" y="282.3" font-size="11.2" text-anchor="middle" transform="rotate(-90 19.5 282.3)" >Responsivity (A/W)</text>
<text x="226.7" y="226" font-size="13.8" text-anchor="middle" stroke-width="0.6">(c)</text>
<rect x="48.1" y="345.1" width="94.6" height="18.1" fill="#fff" stroke="#bdbdbd" stroke-width="1"/>
<line x1="49.2" y1="353.8" x2="74.2" y2="353.8" stroke="#111" stroke-width="1.4" />
<text x="78.2" y="358" font-size="11"><tspan font-style="italic" font-family="'Liberation Serif', serif" font-size="12.5">β</tspan><tspan font-style="italic" font-size="8" dy="2.9" dx="0.3">0</tspan><tspan dy="-2.9"> = 1.4 A/W</tspan></text>
<path d="M310.5 347.2C312.42 346.9 317.92 346.03 322 345.4C326.08 344.77 330.67 344.15 335 343.4C339.33 342.65 342.9 342.08 348 340.9C353.1 339.72 359.3 338.2 365.6 336.3C371.9 334.4 379.07 332.25 385.8 329.5C392.53 326.75 399.27 323.43 406 319.8C412.73 316.17 419.47 312.27 426.2 307.7C432.93 303.13 439.68 297.65 446.4 292.4C453.12 287.15 459.78 281.73 466.5 276.2C473.22 270.67 479.53 265 486.7 259.2C493.87 253.4 505.7 244.37 509.5 241.4" fill="none" stroke="#111" stroke-width="1.4"/>
<rect x="310.4" y="210.8" width="199" height="159.4" fill="none" stroke="#1c1c1c" stroke-width="1.5"/>
<line x1="330.3" y1="370.2" x2="330.3" y2="372.1" stroke="#1c1c1c" stroke-width="1.1" />
<line x1="370.1" y1="370.2" x2="370.1" y2="372.1" stroke="#1c1c1c" stroke-width="1.1" />
<line x1="409.9" y1="370.2" x2="409.9" y2="372.1" stroke="#1c1c1c" stroke-width="1.1" />
<line x1="449.7" y1="370.2" x2="449.7" y2="372.1" stroke="#1c1c1c" stroke-width="1.1" />
<line x1="489.5" y1="370.2" x2="489.5" y2="372.1" stroke="#1c1c1c" stroke-width="1.1" />
<line x1="310.4" y1="370.2" x2="310.4" y2="373.3" stroke="#1c1c1c" stroke-width="1.3" />
<text x="310.4" y="385" font-size="11" text-anchor="middle" >0</text>
<line x1="350.2" y1="370.2" x2="350.2" y2="373.3" stroke="#1c1c1c" stroke-width="1.3" />
<text x="350.2" y="385" font-size="11" text-anchor="middle" >0.1</text>
<line x1="390" y1="370.2" x2="390" y2="373.3" stroke="#1c1c1c" stroke-width="1.3" />
<text x="390" y="385" font-size="11" text-anchor="middle" >0.2</text>
<line x1="429.8" y1="370.2" x2="429.8" y2="373.3" stroke="#1c1c1c" stroke-width="1.3" />
<text x="429.8" y="385" font-size="11" text-anchor="middle" >0.3</text>
<line x1="469.6" y1="370.2" x2="469.6" y2="373.3" stroke="#1c1c1c" stroke-width="1.3" />
<text x="469.6" y="385" font-size="11" text-anchor="middle" >0.4</text>
<line x1="509.4" y1="370.2" x2="509.4" y2="373.3" stroke="#1c1c1c" stroke-width="1.3" />
<text x="509.4" y="385" font-size="11" text-anchor="middle" >0.5</text>
<line x1="310.4" y1="358.81" x2="308.4" y2="358.81" stroke="#1c1c1c" stroke-width="1.1" />
<line x1="310.4" y1="336.04" x2="308.4" y2="336.04" stroke="#1c1c1c" stroke-width="1.1" />
<line x1="310.4" y1="313.27" x2="308.4" y2="313.27" stroke="#1c1c1c" stroke-width="1.1" />
<line x1="310.4" y1="290.5" x2="308.4" y2="290.5" stroke="#1c1c1c" stroke-width="1.1" />
<line x1="310.4" y1="267.73" x2="308.4" y2="267.73" stroke="#1c1c1c" stroke-width="1.1" />
<line x1="310.4" y1="244.96" x2="308.4" y2="244.96" stroke="#1c1c1c" stroke-width="1.1" />
<line x1="310.4" y1="222.19" x2="308.4" y2="222.19" stroke="#1c1c1c" stroke-width="1.1" />
<line x1="310.4" y1="370.2" x2="307.1" y2="370.2" stroke="#1c1c1c" stroke-width="1.3" />
<text x="304.9" y="374.15" font-size="11" text-anchor="end" >0</text>
<line x1="310.4" y1="347.43" x2="307.1" y2="347.43" stroke="#1c1c1c" stroke-width="1.3" />
<text x="304.9" y="351.38" font-size="11" text-anchor="end" >1</text>
<line x1="310.4" y1="324.66" x2="307.1" y2="324.66" stroke="#1c1c1c" stroke-width="1.3" />
<text x="304.9" y="328.61" font-size="11" text-anchor="end" >2</text>
<line x1="310.4" y1="301.89" x2="307.1" y2="301.89" stroke="#1c1c1c" stroke-width="1.3" />
<text x="304.9" y="305.84" font-size="11" text-anchor="end" >3</text>
<line x1="310.4" y1="279.11" x2="307.1" y2="279.11" stroke="#1c1c1c" stroke-width="1.3" />
<text x="304.9" y="283.06" font-size="11" text-anchor="end" >4</text>
<line x1="310.4" y1="256.34" x2="307.1" y2="256.34" stroke="#1c1c1c" stroke-width="1.3" />
<text x="304.9" y="260.29" font-size="11" text-anchor="end" >5</text>
<line x1="310.4" y1="233.57" x2="307.1" y2="233.57" stroke="#1c1c1c" stroke-width="1.3" />
<text x="304.9" y="237.52" font-size="11" text-anchor="end" >6</text>
<line x1="310.4" y1="210.8" x2="307.1" y2="210.8" stroke="#1c1c1c" stroke-width="1.3" />
<text x="304.9" y="214.75" font-size="11" text-anchor="end" >7</text>
<text x="410" y="403.2" font-size="11.2" text-anchor="middle" >Voltage (V)</text>
<text x="288.4" y="285" font-size="11" text-anchor="middle" transform="rotate(-90 288.4 285)" >Asymmetry</text>
<text x="494.8" y="225.9" font-size="13.9" text-anchor="middle" >(d)</text>
<rect x="313" y="350.3" width="114.5" height="16.7" fill="#fff" stroke="#bdbdbd" stroke-width="1"/>
<line x1="315" y1="359.5" x2="340" y2="359.5" stroke="#111" stroke-width="1.4" />
<text x="345" y="362.2" font-size="11"><tspan font-style="italic" font-family="'Liberation Serif', serif" font-size="11.5">η</tspan> = 5.6 @ 0.5 V</text>
</svg>
</body></html>
